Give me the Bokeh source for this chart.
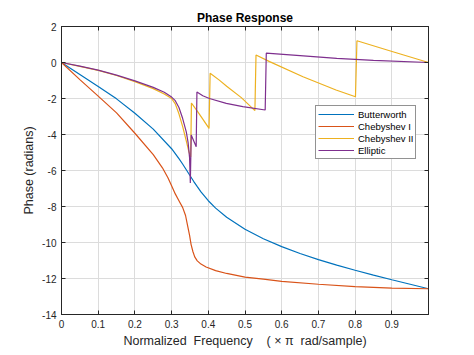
from bokeh.plotting import figure
from bokeh.models import FixedTicker, LinearAxis, Range1d, CustomJSTickFormatter
from bokeh.embed import file_html
from bokeh.resources import INLINE

# ---- data ----
butter_x = [0, 0.05, 0.1, 0.15, 0.2, 0.25, 0.3, 0.32, 0.33, 0.34, 0.35, 0.36, 0.37, 0.38, 0.4,
            0.42, 0.45, 0.5, 0.55, 0.6, 0.65, 0.7, 0.75, 0.8, 0.85, 0.9, 0.95, 1.0]
butter_y = [0, -0.66, -1.33, -2.02, -2.82, -3.7, -4.79, -5.34, -5.64, -5.96, -6.28, -6.6, -6.9, -7.19,
            -7.68, -8.09, -8.6, -9.26, -9.79, -10.23, -10.61, -10.95, -11.26, -11.54, -11.81,
            -12.07, -12.32, -12.57]

cheby1_x = [0, 0.05, 0.1, 0.15, 0.2, 0.25, 0.275, 0.29, 0.3, 0.31, 0.32, 0.33, 0.338, 0.344, 0.349,
            0.353, 0.358, 0.363, 0.37, 0.38, 0.394, 0.42, 0.45, 0.5, 0.55, 0.6, 0.7, 0.8, 0.9, 1.0]
cheby1_y = [0, -0.95, -1.87, -2.8, -3.93, -5.12, -5.85, -6.4, -6.85, -7.3, -7.68, -8.05, -8.5, -9.1,
            -9.6, -10.1, -10.5, -10.8, -11.02, -11.2, -11.36, -11.56, -11.72, -11.92, -12.04,
            -12.16, -12.32, -12.45, -12.53, -12.57]

cheby2_x = [0, 0.05, 0.1, 0.15, 0.2, 0.25, 0.28, 0.3, 0.31, 0.32, 0.33, 0.34, 0.347, 0.352,
            0.354, 0.37, 0.385, 0.402, 0.405, 0.43, 0.45, 0.49, 0.527, 0.53, 0.567, 0.658,
            0.748, 0.801, 0.805, 0.903, 1.0]
cheby2_y = [0, -0.22, -0.44, -0.72, -1.06, -1.45, -1.75, -2.0, -2.3, -2.85, -3.55, -4.35, -4.95, -5.25,
            -2.25, -2.7, -3.15, -3.66, -0.6, -0.98, -1.32, -1.95, -2.67, 0.42, 0.05, -0.79,
            -1.53, -1.9, 1.21, 0.6, 0.0]

ellip_x = [0, 0.05, 0.1, 0.15, 0.2, 0.25, 0.28, 0.3, 0.31, 0.32, 0.33, 0.34, 0.345, 0.349, 0.351,
           0.3535, 0.367, 0.369, 0.385, 0.403, 0.449, 0.494, 0.555, 0.558, 0.65, 0.75, 0.85, 1.0]
ellip_y = [0, -0.2, -0.42, -0.7, -1.02, -1.38, -1.65, -1.92, -2.12, -2.5, -3.1, -3.85, -4.45, -5.3, -6.7,
           -4.03, -4.68, -1.64, -1.85, -2.0, -2.27, -2.45, -2.64, 0.52, 0.38, 0.23, 0.12, 0.0]

x_ticks = [0, 0.1, 0.2, 0.3, 0.4, 0.5, 0.6, 0.7, 0.8, 0.9]
y_ticks = [-14, -12, -10, -8, -6, -4, -2, 0, 2]

colors = ["#0072BD", "#D95319", "#EDB120", "#7E2F8E"]
names = ["Butterworth", "Chebyshev I", "Chebyshev II", "Elliptic"]

AX = "#262626"
FONT = "Liberation Sans"

p = figure(frame_width=367, frame_height=288, output_backend="svg", toolbar_location=None,
           x_range=Range1d(0, 1), y_range=Range1d(-14, 2),
           min_border_left=61, min_border_right=37, min_border_top=26, min_border_bottom=31,
           title="Phase Response")
p.background_fill_color = "white"
p.border_fill_color = "white"
p.outline_line_color = AX
p.outline_line_width = 1

p.title.align = "center"
p.title.text_font = FONT
p.title.text_font_size = "12px"
p.title.text_font_style = "bold"
p.title.text_color = "black"
p.title.standoff = 3
p.title.offset = 0

plain = CustomJSTickFormatter(code="return String(tick)")
for ax in [p.xaxis[0], p.yaxis[0]]:
    ax.formatter = plain
    ax.axis_line_color = AX
    ax.major_tick_line_color = AX
    ax.major_tick_in = 4
    ax.major_tick_out = 0
    ax.minor_tick_line_color = None
    ax.major_label_text_font = FONT
    ax.major_label_text_font_size = "10px"
    ax.major_label_text_color = AX
    ax.axis_label_text_font = FONT
    ax.axis_label_text_font_size = "12.5px"
    ax.axis_label_text_font_style = "normal"
    ax.axis_label_text_color = AX

p.xaxis[0].ticker = FixedTicker(ticks=x_ticks)
p.yaxis[0].ticker = FixedTicker(ticks=y_ticks)
p.xaxis[0].major_label_standoff = 5
p.yaxis[0].major_label_standoff = 5
p.xaxis[0].axis_label = ("Normalized\u00a0\u00a0Frequency\u00a0\u00a0\u00a0\u00a0"
                         "(\u00a0\u00d7\u00a0\u03c0\u00a0\u00a0rad/sample)")
p.yaxis[0].axis_label = "Phase (radians)"
p.xaxis[0].axis_label_standoff = 3
p.yaxis[0].axis_label_standoff = 3

blank = CustomJSTickFormatter(code="return ''")
right = LinearAxis(ticker=FixedTicker(ticks=y_ticks), formatter=blank, major_tick_in=4,
                   major_tick_out=0, minor_tick_line_color=None, axis_line_color=AX,
                   major_tick_line_color=AX, major_label_standoff=0)
top = LinearAxis(ticker=FixedTicker(ticks=x_ticks), formatter=blank, major_tick_in=4,
                 major_tick_out=0, minor_tick_line_color=None, axis_line_color=AX,
                 major_tick_line_color=AX, major_label_standoff=0)
p.add_layout(right, "right")
p.add_layout(top, "above")

p.xgrid.ticker = FixedTicker(ticks=x_ticks)
p.ygrid.ticker = FixedTicker(ticks=y_ticks)
p.grid.grid_line_color = "#dcdcdc"
p.grid.grid_line_width = 1

series = [(butter_x, butter_y), (cheby1_x, cheby1_y), (cheby2_x, cheby2_y), (ellip_x, ellip_y)]
for (xs, ys), c, n in zip(series, colors, names):
    p.line(xs, ys, line_color=c, line_width=1.2, legend_label=n)

lg = p.legend[0]
lg.location = (254, 155)
lg.border_line_color = AX
lg.border_line_width = 1
lg.background_fill_color = "white"
lg.background_fill_alpha = 1
lg.label_text_font = FONT
lg.label_text_font_size = "9.5px"
lg.label_text_color = "black"
lg.glyph_width = 36
lg.glyph_height = 12
lg.label_height = 12
lg.label_standoff = 4
lg.spacing = 0
lg.padding = 2
lg.margin = 0

open("out.html", "w").write(file_html(p, INLINE))
